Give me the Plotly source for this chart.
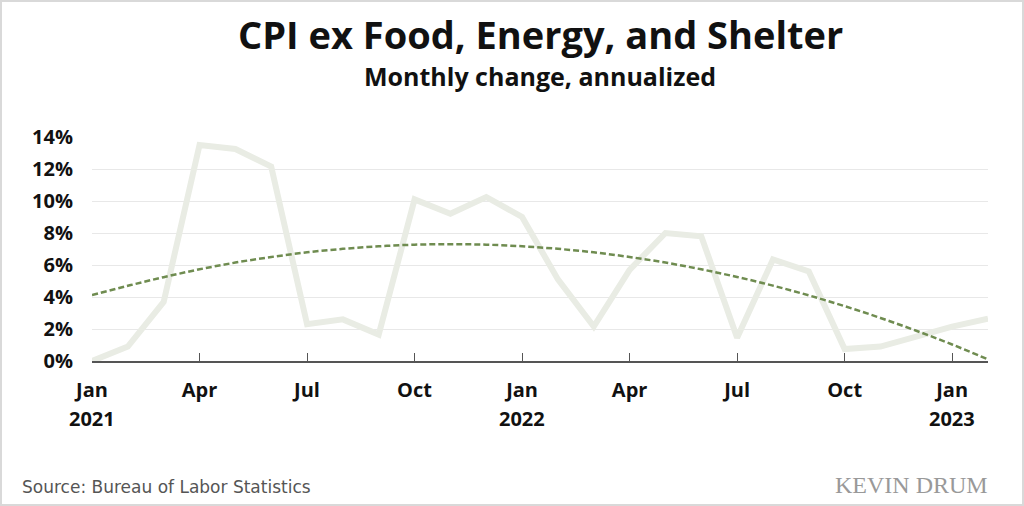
import plotly.graph_objects as go

months = ["Jan 2021", "Feb 2021", "Mar 2021", "Apr 2021", "May 2021", "Jun 2021",
          "Jul 2021", "Aug 2021", "Sep 2021", "Oct 2021", "Nov 2021", "Dec 2021",
          "Jan 2022", "Feb 2022", "Mar 2022", "Apr 2022", "May 2022", "Jun 2022",
          "Jul 2022", "Aug 2022", "Sep 2022", "Oct 2022", "Nov 2022", "Dec 2022",
          "Jan 2023", "Feb 2023"]
cpi_change = [0.0, 0.9, 3.7, 13.5, 13.25, 12.15, 2.3, 2.6, 1.65, 10.1, 9.2, 10.25,
              9.0, 5.1, 2.15, 5.7, 8.0, 7.8, 1.45, 6.35, 5.6, 0.75, 0.9, 1.5,
              2.15, 2.65]
trend = [4.12, 4.7, 5.24, 5.73, 6.15, 6.5, 6.79, 7.01, 7.17, 7.27, 7.3, 7.27,
         7.17, 7.01, 6.79, 6.5, 6.15, 5.73, 5.25, 4.71, 4.1, 3.43, 2.69, 1.89,
         1.03, 0.1]
tick_months = ["Jan 2021", "Apr 2021", "Jul 2021", "Oct 2021", "Jan 2022",
               "Apr 2022", "Jul 2022", "Oct 2022", "Jan 2023"]
tick_text = ["Jan", "Apr", "Jul", "Oct", "Jan", "Apr", "Jul", "Oct", "Jan"]
year_months = ["Jan 2021", "Jan 2022", "Jan 2023"]
year_labels = ["2021", "2022", "2023"]
y_ticks = [0, 2, 4, 6, 8, 10, 12, 14]
y_text = ["0%", "2%", "4%", "6%", "8%", "10%", "12%", "14%"]

W, H = 1024, 506
L, R, T, B = 92, 36, 137, 145
pw, ph = W - L - R, H - T - B
BOLD = "Open Sans"

def px(x):
    return (x - L) / pw

def py(y):
    return (H - B - y) / ph

fig = go.Figure()
fig.add_trace(go.Scatter(x=months, y=cpi_change, mode="lines",
                         line=dict(color="#e9ece4", width=6),
                         hoverinfo="skip", showlegend=False))
fig.add_trace(go.Scatter(x=months, y=trend, mode="lines",
                         line=dict(color="#6f8c50", width=2.5, dash="6px,3px", shape="spline"),
                         hoverinfo="skip", showlegend=False))

fig.update_layout(
    width=W, height=H,
    margin=dict(l=L, r=R, t=T, b=B),
    paper_bgcolor="white", plot_bgcolor="white",
    font=dict(family=BOLD, color="#111"),
    xaxis=dict(type="category", range=[0, len(months) - 1],
               tickmode="array", tickvals=tick_months, ticktext=tick_text,
               ticks="inside", ticklen=8, tickcolor="#555", tickwidth=1,
               showline=True, linecolor="#555", linewidth=1.5,
               showgrid=False, zeroline=False, ticklabelstandoff=10,
               tickfont=dict(family=BOLD, size=20, color="#111", weight="bold")),
    yaxis=dict(range=[0, 14], tickmode="array", tickvals=y_ticks, ticktext=y_text,
               showgrid=True, gridcolor="#e8e8e8", gridwidth=1, zeroline=False,
               ticks="", showline=False, ticklabelstandoff=18,
               tickfont=dict(family=BOLD, size=20, color="#111", weight="bold")),
)

annotations = [
    dict(text="<b>CPI ex Food, Energy, and Shelter</b>", x=0.5, y=py(34), xref="paper", yref="paper",
         xanchor="center", yanchor="middle", showarrow=False,
         font=dict(family=BOLD, size=38, color="#111")),
    dict(text="<b>Monthly change, annualized</b>", x=0.5, y=py(76.5), xref="paper", yref="paper",
         xanchor="center", yanchor="middle", showarrow=False,
         font=dict(family=BOLD, size=25, color="#111")),
    dict(text="Source: Bureau of Labor Statistics", x=px(20), y=py(487), xref="paper", yref="paper",
         xanchor="left", yanchor="middle", showarrow=False,
         font=dict(family="DejaVu Sans", size=17, color="#555")),
    dict(text="KEVIN DRUM", x=px(990), y=py(485), xref="paper", yref="paper",
         xanchor="right", yanchor="middle", showarrow=False,
         font=dict(family="Liberation Serif", size=24, color="#999")),
]
for m, yl in zip(year_months, year_labels):
    annotations.append(dict(text="<b>" + yl + "</b>", x=m, y=py(418), xref="x", yref="paper",
                            xanchor="center", yanchor="middle", showarrow=False,
                            font=dict(family=BOLD, size=20, color="#111")))
fig.update_layout(annotations=annotations)

fig.add_shape(type="rect", xref="paper", yref="paper",
              x0=px(1), x1=px(W - 1), y0=py(H - 1), y1=py(1),
              line=dict(color="#d9d9d9", width=2), fillcolor="rgba(0,0,0,0)", layer="below")

fig.write_html("out.html")
